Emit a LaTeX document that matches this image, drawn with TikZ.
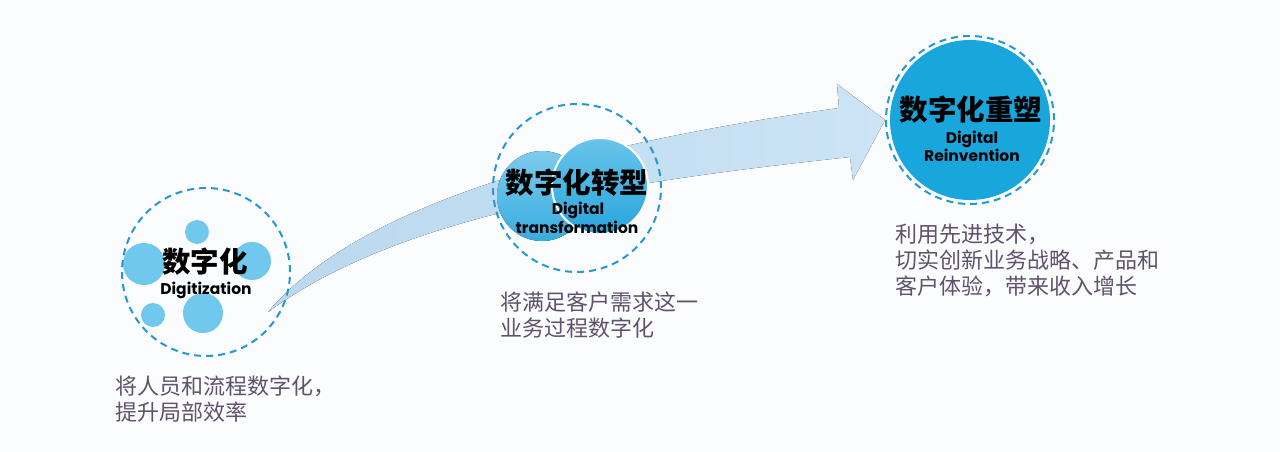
\documentclass[tikz,border=0pt]{standalone}
\usepackage{fontspec}
\newfontfamily\cjk{Noto Sans CJK SC}
\newfontfamily\lat{Poppins}
\definecolor{bg}{RGB}{251,252,254}
\definecolor{dashc}{RGB}{40,150,210}
\definecolor{bubble}{RGB}{112,200,236}
\definecolor{bigfill}{RGB}{24,166,220}
\definecolor{arrowc}{RGB}{198,224,242}
\definecolor{desc}{RGB}{96,82,108}
\begin{document}
\begin{tikzpicture}[x=1pt,y=-1pt,
  ring/.style={draw=dashc,line width=2pt,dash pattern=on 7pt off 5pt},
  bub/.style={fill=bubble},
  headcn/.style={font=\cjk\bfseries\fontsize{28.5}{30}\selectfont,anchor=base,inner sep=0pt},
  headen/.style={font=\lat\bfseries\fontsize{15.5}{17}\selectfont,anchor=base,inner sep=0pt},
  desctext/.style={font=\cjk\fontsize{22}{26}\selectfont,text=desc,anchor=base west,align=left,inner sep=0pt}]
\fill[bg] (0,0) rectangle (1280,452);
\useasboundingbox (0,0) rectangle (1280,452);
% arrow
\coordinate (tail) at (268,312);
\coordinate (st) at (839,108);
\coordinate (ht) at (837,84);
\coordinate (tip) at (885,120);
\coordinate (hb) at (853,180);
\coordinate (sb) at (850,157);
\fill[left color={rgb,255:red,186;green,216;blue,239},right color={rgb,255:red,204;green,228;blue,245}]
  (tail) .. controls (350,215) and (540,150) .. (st) -- (ht) -- (tip) -- (hb) -- (sb)
  .. controls (620,182) and (400,215) .. (tail) -- cycle;
% circle 1
\fill[bub] (197,232) circle (12);
\fill[bub] (144,264) circle (21);
\fill[bub] (252,261) circle (19);
\fill[bub] (203,313) circle (20);
\fill[bub] (153,315) circle (12);
\node[ring,circle,minimum size=168pt] (c1) at (206,272) {};
\node[headcn] (t1) at (205,272) {数字化};
\node[headen] (e1) at (206,294) {Digitization};
\node[desctext] (d1) at (115,420) {将人员和流程数字化，\\提升局部效率};
% circle 2
\fill[top color={rgb,255:red,125;green,203;blue,237},bottom color={rgb,255:red,55;green,172;blue,223}] (542,196) circle (45);
\fill[top color={rgb,255:red,105;green,196;blue,235},bottom color={rgb,255:red,40;green,165;blue,220},draw=white,line width=2pt] (600,186) circle (48);
\node[ring,circle,minimum size=168pt] (c2) at (577,188) {};
\node[headcn] (t2) at (577,193) {数字化转型};
\node[headen] (e2a) at (578,214) {Digital};
\node[headen] (e2b) at (577,233) {transformation};
\node[desctext] (d2) at (500,336) {将满足客户需求这一\\业务过程数字化};
% circle 3
\fill[bigfill] (970,120) circle (80);
\node[ring,circle,minimum size=168pt] (c3) at (970,120) {};
\node[headcn] (t3) at (971,120) {数字化重塑};
\node[headen] (e3a) at (972,143) {Digital};
\node[headen] (e3b) at (972,161) {Reinvention};
\node[desctext] (d3) at (895,294) {利用先进技术，\\切实创新业务战略、产品和\\客户体验，带来收入增长};
\end{tikzpicture}
\end{document}
